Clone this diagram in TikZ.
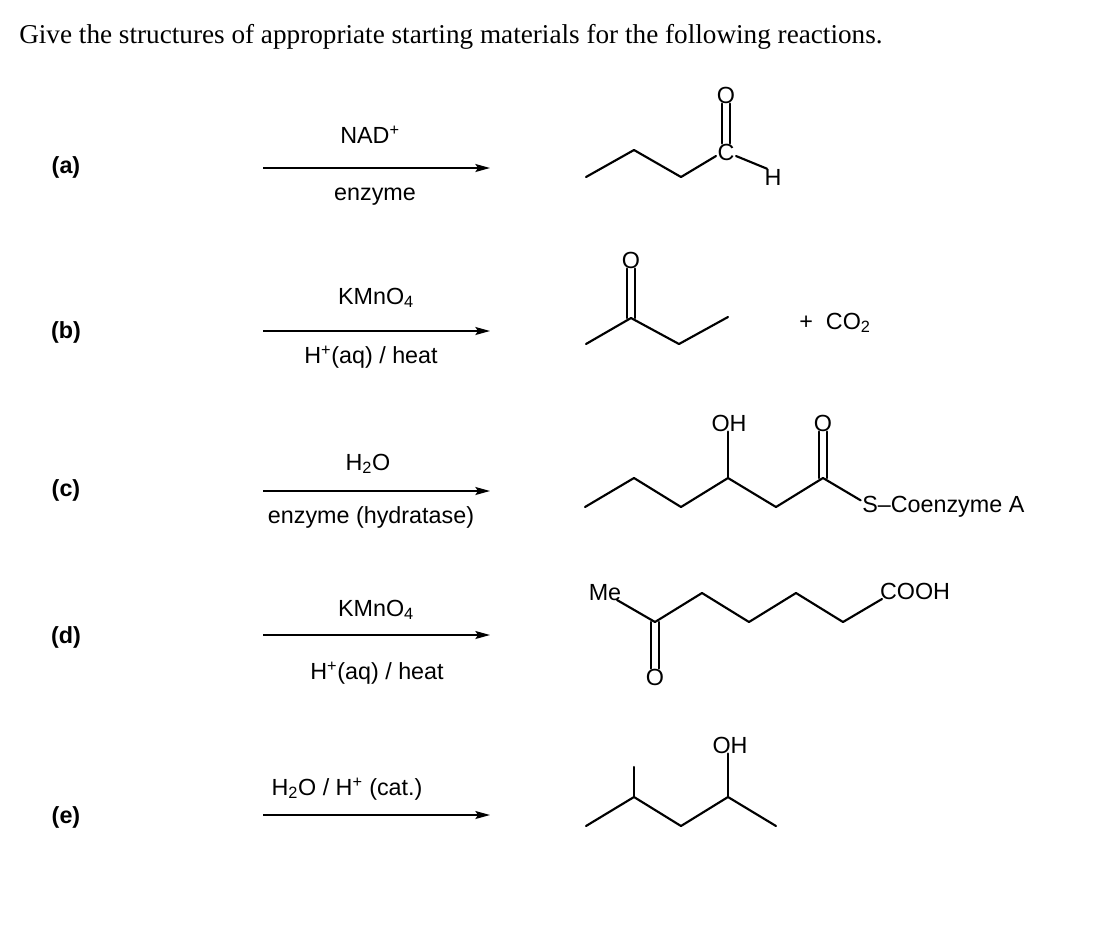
\documentclass[tikz,border=0pt]{standalone}
\usepackage{fontspec}
\setmainfont{Liberation Sans}
\newfontfamily\titlefont{Liberation Serif}
\usetikzlibrary{arrows.meta}
\begin{document}
\begin{tikzpicture}[x=0.75pt,y=-0.75pt,
  bond/.style={line width=1.6pt,line cap=round,line join=round},
  rxn/.style={line width=1.1pt,-{Stealth[length=11pt,width=6pt,inset=2pt]}},
  lbl/.style={font=\fontsize{17.5}{20}\selectfont,inner sep=0pt},
  atom/.style={font=\fontsize{17.5}{20}\selectfont,inner sep=0pt},
  tag/.style={font=\fontsize{17.5}{20}\selectfont\bfseries,inner sep=0pt}]
\useasboundingbox (0,0) rectangle (1104,926);
\node[anchor=west,inner sep=0pt,font=\titlefont\fontsize{20.4}{23}\selectfont] (title) at (19,37) {Give the structures of appropriate starting materials for the following reactions.};
% tags
\node[tag] (ta) at (66,167) {(a)};
\node[tag] (tb) at (66,332) {(b)};
\node[tag] (tc) at (66,490) {(c)};
\node[tag] (td) at (66,637) {(d)};
\node[tag] (te) at (66,817) {(e)};
% arrows
\foreach \n/\y in {a/168,b/331,c/491,d/635,e/815}{
  \coordinate (s\n) at (263,\y); \coordinate (e\n) at (490,\y);
  \draw[rxn] (s\n) -- (e\n);}
\node[lbl] (la1) at (370,135) {NAD\textsuperscript{+}};
\node[lbl] (la2) at (375,197) {enzyme};
\node[lbl] (lb1) at (376,298) {KMnO\textsubscript{4}};
\node[lbl] (lb2) at (371,357) {H\textsuperscript{+}(aq) / heat};
\node[lbl] (lc1) at (368,464) {H\textsubscript{2}O};
\node[lbl] (lc2) at (371,517) {enzyme (hydratase)};
\node[lbl] (ld1) at (376,610) {KMnO\textsubscript{4}};
\node[lbl] (ld2) at (377,673) {H\textsuperscript{+}(aq) / heat};
\node[lbl] (le1) at (347,789) {H\textsubscript{2}O / H\textsuperscript{+} (cat.)};
% (a) butanal
\node[atom] (aC) at (726,152) {C};
\node[atom] (aO) at (726,95) {O};
\node[atom] (aH) at (773,177) {H};
\coordinate (a1) at (586,177); \coordinate (a2) at (634,150); \coordinate (a3) at (681,177); \coordinate (a4) at (716,156);
\draw[bond] (a1) -- (a2) -- (a3) -- (a4);
\draw[bond] ([xshift=-3]aO.south) -- ([xshift=-3]aC.north);
\draw[bond] ([xshift=3]aO.south) -- ([xshift=3]aC.north);
\draw[bond] ([xshift=1,yshift=-3]aC.east) -- ([xshift=2]aH.north west);
% (b) butanone
\node[atom] (bO) at (631,260) {O};
\coordinate (b1) at (586,344); \coordinate (b2) at (631,318); \coordinate (b3) at (679,344); \coordinate (b4) at (728,317);
\draw[bond] (b1) -- (b2) -- (b3) -- (b4);
\draw[bond] ([xshift=-3]bO.south) -- ([xshift=-3]b2);
\draw[bond] ([xshift=3]bO.south) -- ([xshift=3]b2);
\node[atom] (bco) at (835,323) {+\ \ CO\textsubscript{2}};
% (c)
\node[atom] (cOH) at (729,423) {OH};
\node[atom] (cO) at (823,423) {O};
\node[atom,anchor=west] (cS) at (862,507) {S--Coenzyme A};
\coordinate (c1) at (585,507); \coordinate (c2) at (634,478); \coordinate (c3) at (681,507);
\coordinate (c4) at (728,478); \coordinate (c5) at (776,507); \coordinate (c6) at (823,478);
\draw[bond] (c1) -- (c2) -- (c3) -- (c4) -- (c5) -- (c6) -- ([xshift=-1,yshift=5]cS.west);
\draw[bond] (c4) -- (c4 |- cOH.south);
\draw[bond] ([xshift=-3]cO.south) -- ([xshift=-3]c6);
\draw[bond] ([xshift=3]cO.south) -- ([xshift=3]c6);
% (d)
\node[atom] (dMe) at (605,593) {Me};
\node[atom] (dCOOH) at (915,591) {COOH};
\node[atom] (dO) at (655,677) {O};
\coordinate (d0) at (617,600);
\coordinate (d1) at (655,622); \coordinate (d2) at (702,593); \coordinate (d3) at (749,622);
\coordinate (d4) at (796,593); \coordinate (d5) at (843,622); \coordinate (d6) at (882,599);
\draw[bond] (d0) -- (d1) -- (d2) -- (d3) -- (d4) -- (d5) -- (d6);
\draw[bond] ([xshift=-3]dO.north) -- ([xshift=-3]d1);
\draw[bond] ([xshift=3]dO.north) -- ([xshift=3]d1);
% (e)
\node[atom] (eOH) at (730,745) {OH};
\coordinate (e1) at (586,826); \coordinate (e2) at (634,797); \coordinate (e3) at (681,826);
\coordinate (e4) at (728,797); \coordinate (e5) at (776,826); \coordinate (e6) at (634,767);
\draw[bond] (e1) -- (e2) -- (e3) -- (e4) -- (e5);
\draw[bond] (e2) -- (e6);
\draw[bond] (e4) -- (e4 |- eOH.south);
\end{tikzpicture}
\end{document}
